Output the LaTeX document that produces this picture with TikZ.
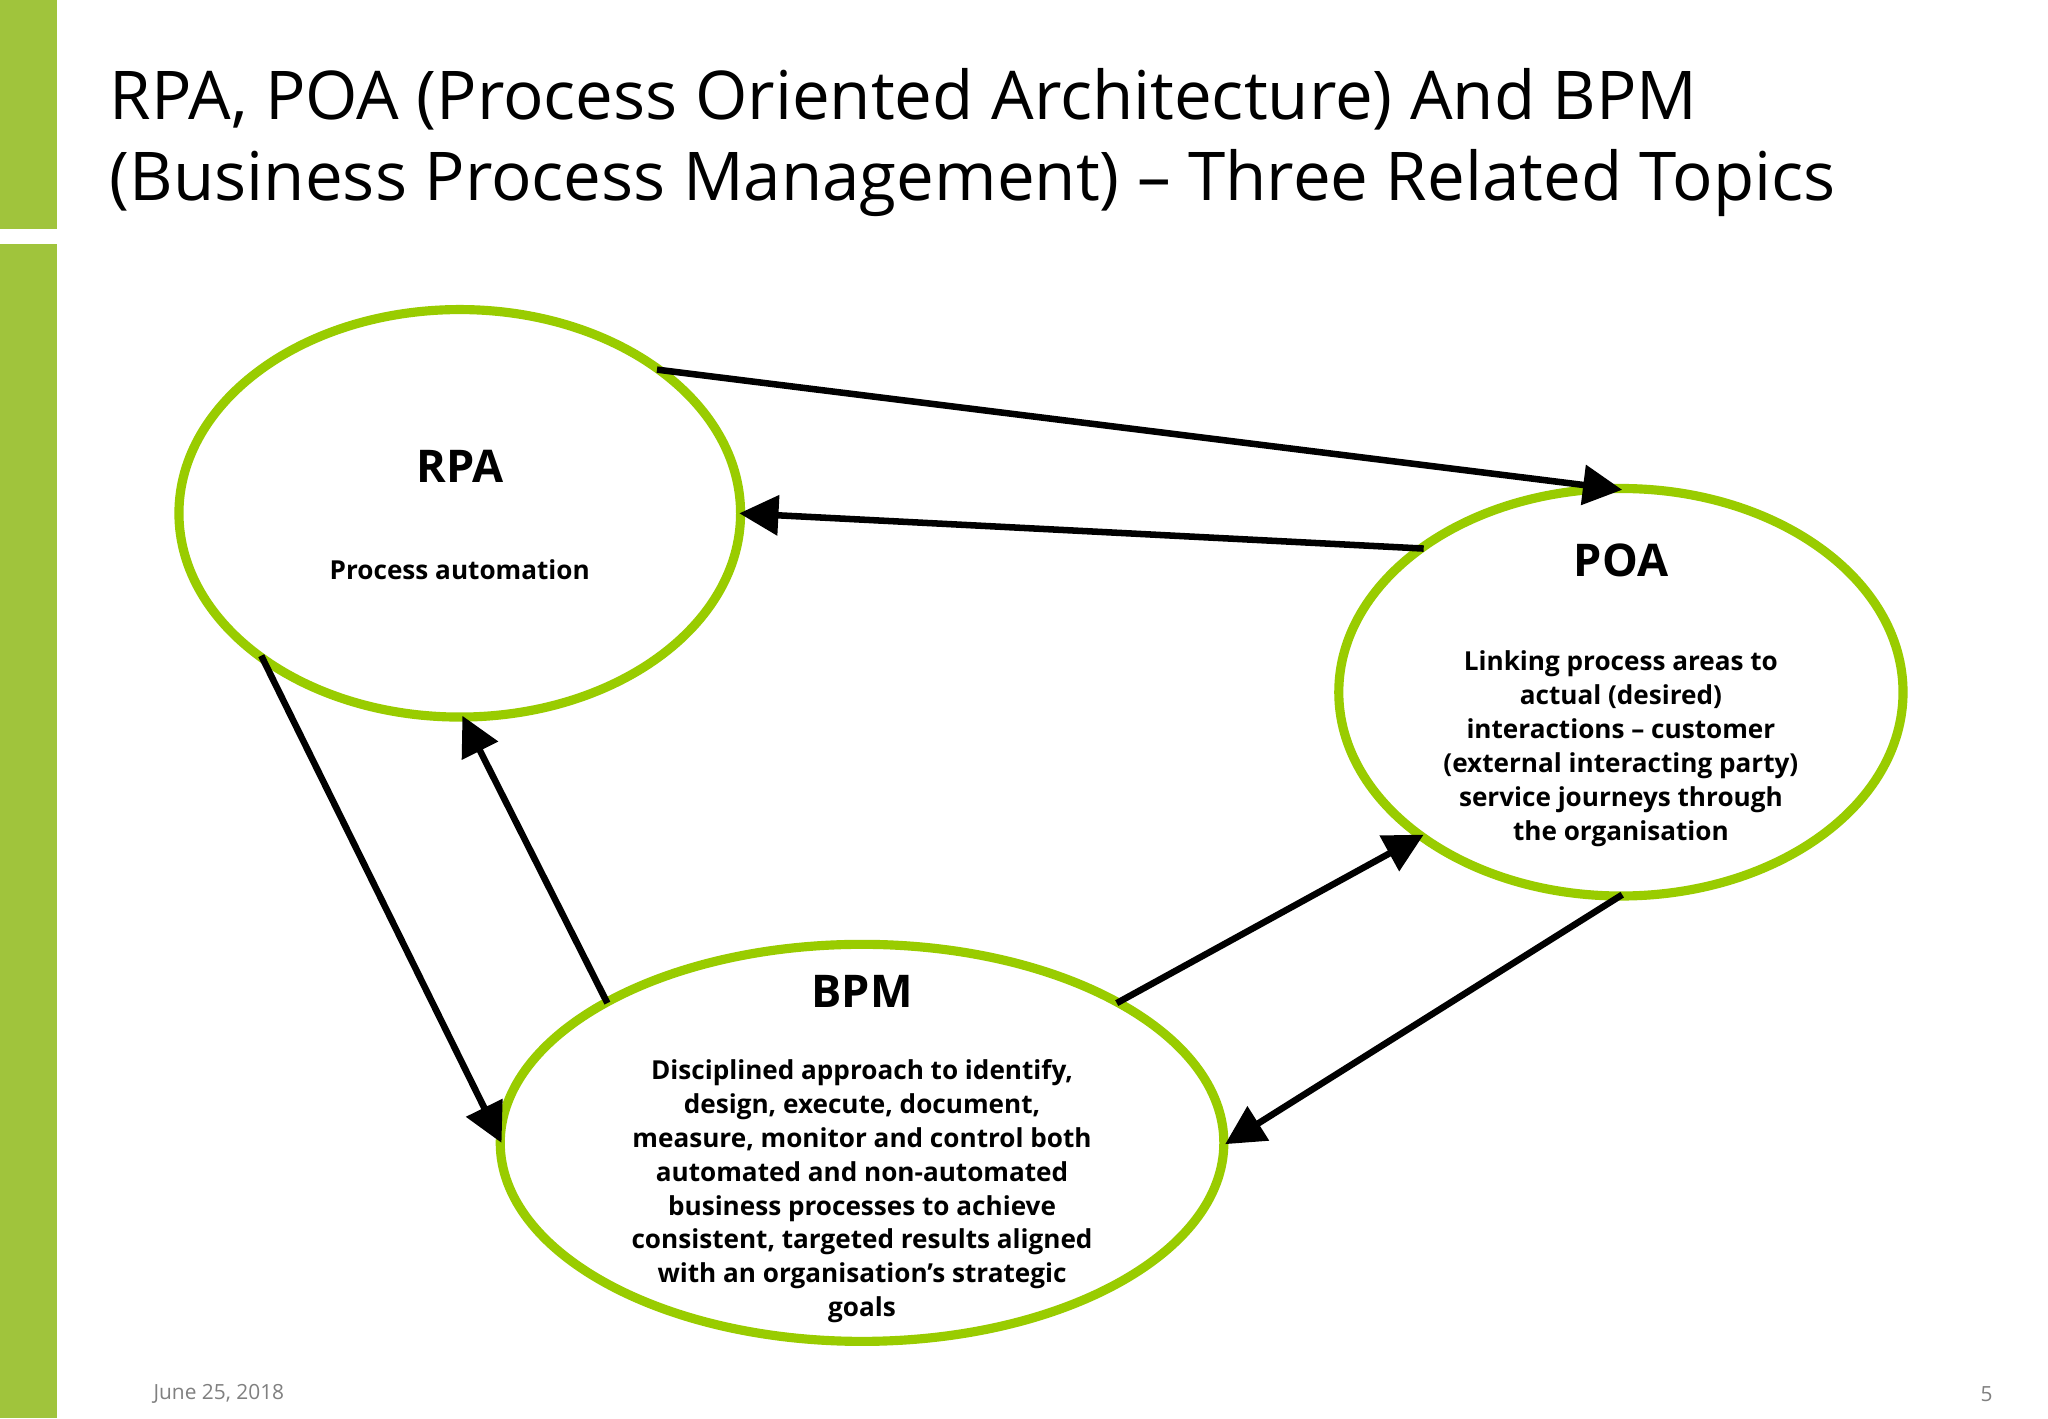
\documentclass[tikz,border=0pt]{standalone}
\usepackage{fontspec}
\setmainfont{Open Sans}
\usetikzlibrary{arrows.meta}
\definecolor{lg}{RGB}{153,204,0}
\definecolor{bar}{RGB}{160,196,60}
\begin{document}
\begin{tikzpicture}[x=1pt,y=-1pt,
  arr/.style={line width=5pt,-{Triangle[length=30pt,width=30pt]}},
  head/.style={font=\fontsize{34.5}{40}\selectfont\bfseries},
  body/.style={font=\fontsize{20}{26}\selectfont\bfseries,align=center}]
\useasboundingbox (0,0) rectangle (1568,1086);
\fill[white] (0,0) rectangle (1568,1086);
\fill[bar] (0,0) rectangle (44,175);
\fill[bar] (0,187) rectangle (44,1086);
\node[anchor=north west,align=left,inner sep=0,font=\fontsize{51.5}{62}\selectfont] (title) at (84,52)
 {RPA, POA (Process Oriented Architecture) And BPM\\(Business Process Management) – Three Related Topics};
\draw[lg,line width=7pt] (352,393) ellipse [x radius=215,y radius=156];
\draw[lg,line width=7pt] (1241,530) ellipse [x radius=216,y radius=156];
\draw[lg,line width=7pt] (660,875) ellipse [x radius=277,y radius=152];
\node[head] (rpa) at (352,357) {RPA};
\node[body] (rpat) at (352,436) {Process automation};
\node[head] (poa) at (1241,429) {POA};
\node[body] (poat) at (1241,573) {Linking process areas to\\actual (desired)\\interactions – customer\\(external interacting party)\\service journeys through\\the organisation};
\node[head] (bpm) at (660,759) {BPM};
\node[body] (bpmt) at (660,912) {Disciplined approach to identify,\\design, execute, document,\\measure, monitor and control both\\automated and non-automated\\business processes to achieve\\consistent, targeted results aligned\\with an organisation’s strategic\\goals};
\coordinate (a1) at (503,283); \coordinate (b1) at (1242,375);
\coordinate (a2) at (1090,420); \coordinate (b2) at (566,393);
\coordinate (a3) at (200,502); \coordinate (b3) at (384,875);
\coordinate (a4) at (465,768); \coordinate (b4) at (354,548);
\coordinate (a5) at (855,768); \coordinate (b5) at (1090,639);
\coordinate (a6) at (1242,685); \coordinate (b6) at (938,876);
\draw[arr] (a1) -- (b1);
\draw[arr] (a2) -- (b2);
\draw[arr] (a3) -- (b3);
\draw[arr] (a4) -- (b4);
\draw[arr] (a5) -- (b5);
\draw[arr] (a6) -- (b6);
\node[anchor=west,text=gray,font=\fontsize{16}{18}\selectfont] (date) at (114,1067) {June 25, 2018};
\node[anchor=east,text=gray,font=\fontsize{16}{18}\selectfont] (pg) at (1529,1067) {5};
\end{tikzpicture}
\end{document}
